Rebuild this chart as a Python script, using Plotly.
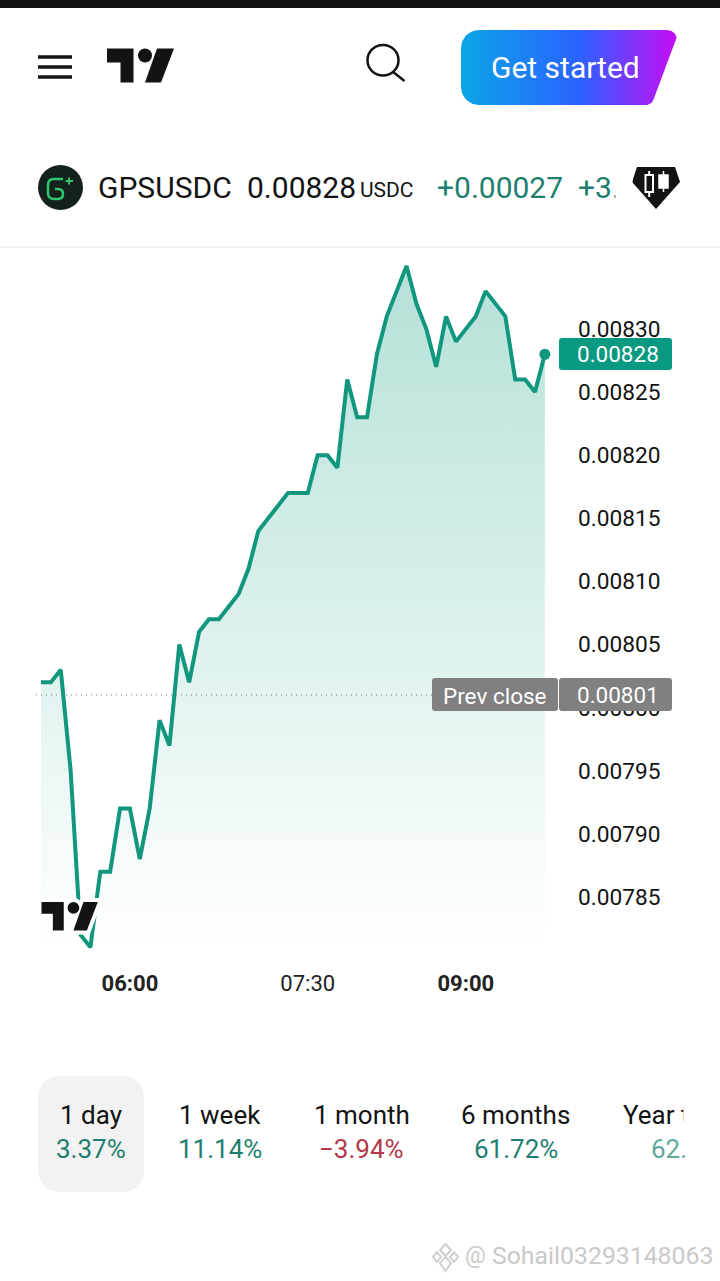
import numpy as np
import plotly.graph_objects as go

# chart data (one point per bar, gaps not shown)
bar_index = list(range(52))
prices = [
    0.00802, 0.00802, 0.00803, 0.00795, 0.00782, 0.00781, 0.00787, 0.00787,
    0.00792, 0.00792, 0.00788, 0.00792, 0.00799, 0.00797, 0.00805, 0.00802,
    0.00806, 0.00807, 0.00807, 0.00808, 0.00809, 0.00811, 0.00814, 0.00815,
    0.00816, 0.00817, 0.00817, 0.00817, 0.00820, 0.00820, 0.00819, 0.00826,
    0.00823, 0.00823, 0.00828, 0.00831, 0.00833, 0.00835, 0.00832, 0.00830,
    0.00827, 0.00831, 0.00829, 0.00830, 0.00831, 0.00833, 0.00832, 0.00831,
    0.00826, 0.00826, 0.00825, 0.00828,
]
prev_close = 0.00801
base_price = 0.00780

y_ticks = [0.00830, 0.00825, 0.00820, 0.00815, 0.00810, 0.00805, 0.00800, 0.00795, 0.00790, 0.00785]
y_tick_labels = ["0.00830", "0.00825", "0.00820", "0.00815", "0.00810", "0.00805", "0.00800", "0.00795", "0.00790", "0.00785"]
x_ticks = [9, 27, 43]
x_tick_labels = ["<b>06:00</b>", "07:30", "<b>09:00</b>"]

periods = ["1 day", "1 week", "1 month", "6 months"]
period_changes = ["3.37%", "11.14%", "\u22123.94%", "61.72%"]

FONT = "Roboto"
GREEN = "#12977F"
TEXT_GREEN = "#1F7F6E"
RED = "#B2384A"
INK = "#131313"
GRAY = "#808080"
W, H = 720, 1281


def label(x, y, text, size, color=INK, anchor="center"):
    return dict(x=x, y=y, xref="x2", yref="y2", text=text, showarrow=False, xanchor=anchor,
                yanchor="middle", borderpad=0, font=dict(family=FONT, size=size, color=color))


def blank(x0, x1, y0, y1):
    # white patch over text, used where the page crops a word
    return dict(x=x0, y=y0, xref="x2", yref="y2", text=" ", showarrow=False, xanchor="left", yanchor="top",
                width=x1 - x0, height=y1 - y0, bgcolor="white", borderpad=0, font=dict(size=10))


def page_shape(path, fill=None, line=None, width=0):
    return dict(type="path", path=path, xref="x2", yref="y2", layer="above",
                fillcolor=fill if fill else "rgba(0,0,0,0)",
                line=dict(color=line if line else "rgba(0,0,0,0)", width=width))


def page_circle(cx, cy, r, fill, line=None, width=0):
    return dict(type="circle", x0=cx - r, x1=cx + r, y0=cy - r, y1=cy + r, xref="x2", yref="y2", layer="above",
                fillcolor=fill, line=dict(color=line if line else "rgba(0,0,0,0)", width=width))


def round_rect(x0, y0, x1, y1, r):
    return (f"M {x0 + r} {y0} H {x1 - r} Q {x1} {y0} {x1} {y0 + r} V {y1 - r} Q {x1} {y1} {x1 - r} {y1} "
            f"H {x0 + r} Q {x0} {y1} {x0} {y1 - r} V {y0 + r} Q {x0} {y0} {x0 + r} {y0} Z")


def tv_logo(x, y, s, halo=False):
    # logo drawn in a 67 x 34 box
    def p(px, py):
        return f"{x + px * s} {y + py * s}"
    t = f"M {p(0, 0)} L {p(26.5, 0)} L {p(26.5, 34)} L {p(13.5, 34)} L {p(13.5, 14)} L {p(0, 14)} Z"
    slash = f"M {p(50, 0)} L {p(67, 0)} L {p(54, 34)} L {p(38, 34)} Z"
    cx, cy = x + 38 * s, y + 7 * s
    out = []
    if halo:
        out += [page_shape(d, "white", "white", 8) for d in (t, slash)]
        out.append(page_circle(cx, cy, 7 * s, "white", "white", 8))
    out += [page_shape(d, INK) for d in (t, slash)]
    out.append(page_circle(cx, cy, 7 * s, INK))
    return out


def arc(cx, cy, r, a0, a1):
    a = np.radians(np.linspace(a0, a1, 12))
    return list(cx + r * np.cos(a)), list(cy + r * np.sin(a))


fig = go.Figure()

fig.add_trace(go.Scatter(x=bar_index, y=[base_price] * len(bar_index), mode="lines",
                         line=dict(width=0), hoverinfo="skip", xaxis="x", yaxis="y"))
fig.add_trace(go.Scatter(x=bar_index, y=prices, mode="lines", fill="tonexty",
                         line=dict(color=GREEN, width=4),
                         fillgradient=dict(type="vertical", start=0.00781, stop=0.00835,
                                           colorscale=[[0, "rgba(8,153,129,0)"], [1, "rgba(8,153,129,0.30)"]]),
                         xaxis="x", yaxis="y"))
fig.add_trace(go.Scatter(x=bar_index[-1:], y=prices[-1:], mode="markers",
                         marker=dict(color=GREEN, size=11), xaxis="x", yaxis="y"))

# button with the gradient, page pixel coordinates
bx, by = [], []
for c in [(479, 48, 18, 180, 270), (667, 40, 10, 270, 345), (646, 97, 8, 15, 90), (479, 87, 18, 90, 180)]:
    ax_, ay_ = arc(*c)
    bx += ax_
    by += ay_
fig.add_trace(go.Scatter(x=bx + bx[:1], y=by + by[:1], mode="lines", fill="toself", line=dict(width=0),
                         fillgradient=dict(type="horizontal", start=461, stop=677,
                                           colorscale=[[0, "#0BA5E6"], [0.55, "#2B62FF"], [1, "#C70CF5"]]),
                         xaxis="x2", yaxis="y2", hoverinfo="skip"))

shapes = [
    dict(type="rect", x0=0, x1=W, y0=0, y1=8, xref="x2", yref="y2", fillcolor=INK, line_width=0, layer="above"),
    dict(type="rect", x0=0, x1=W, y0=246.5, y1=248, xref="x2", yref="y2", fillcolor="#EFEFEF", line_width=0, layer="above"),
    dict(type="line", x0=36, x1=560, y0=prev_close, y1=prev_close, xref="x2", yref="y",
         line=dict(color="#777777", width=1, dash="1px 4px"), layer="above"),
    # hamburger
    *[dict(type="line", x0=38, x1=72, y0=v, y1=v, xref="x2", yref="y2", line=dict(color=INK, width=3.5), layer="above")
      for v in (57, 67, 77)],
    # search icon
    dict(type="circle", x0=367.5, x1=398.5, y0=45, y1=75.5, xref="x2", yref="y2", line=dict(color=INK, width=2.5), layer="above"),
    dict(type="line", x0=392.5, x1=404.5, y0=71.5, y1=81, xref="x2", yref="y2", line=dict(color=INK, width=2.5), layer="above"),
    # token icon
    page_circle(60.5, 187.5, 22.5, "#14211D"),
    page_shape("M 63 179 H 54 Q 48 179 48 185 V 193 Q 48 199 54 199 H 58 Q 63 199 63 194 Q 63 189 58 189 H 55", None, "#2DC76D", 2.5),
    page_shape("M 65.5 181 H 73 M 69 177.5 V 184.5", None, "#2DC76D", 2),
    # candle badge
    page_shape("M 637 167 H 675 L 680 182 L 656 209 L 632 182 Z", INK),
    page_shape("M 645.5 175 H 653 V 192 H 645.5 Z M 649.2 171 V 175 M 649.2 192 V 197", None, "white", 2),
    page_shape("M 659 175 H 668 V 188 H 659 Z M 663.5 171 V 175 M 663.5 188 V 192", "white", "white", 1.5),
    # price labels
    page_shape(round_rect(559, 338, 672, 370, 3), "#089981"),
    page_shape(round_rect(432, 678, 558, 711, 3), GRAY),
    page_shape(round_rect(559, 678, 672, 711, 3), GRAY),
    # selected period
    page_shape(round_rect(38, 1076, 144, 1192, 24), "#F2F2F2"),
    # watermark mark
    page_shape("M 445.5 1244 L 451 1250 L 445.5 1256 L 440 1250 Z", None, "#CFCFCF", 2),
    page_shape("M 445.5 1257 L 451 1263 L 445.5 1271 L 440 1263 Z", None, "#CFCFCF", 2),
    page_shape("M 437 1252 L 441 1257 L 437 1262 L 433 1257 Z M 454 1252 L 458 1257 L 454 1262 L 450 1257 Z", None, "#CFCFCF", 2),
]
shapes += tv_logo(107, 48.5, 1.0)
shapes += tv_logo(41.5, 902, 0.84, halo=True)

annotations = [
    label(565.5, 67, "Get started", 30, "white"),
    label(97, 187, "GPSUSDC", 30, INK, "left"),
    label(246, 187, "0.00828", 30, INK, "left"),
    label(359, 190, "USDC", 21, INK, "left"),
    label(436, 187, "+0.00027", 30, TEXT_GREEN, "left"),
    label(577, 187, "+3.", 30, TEXT_GREEN, "left"),
    blank(615, 631, 170, 205),
    label(618, 354, "0.00828", 22.5, "white"),
    label(494.5, 696, "Prev close", 22.5, "white"),
    label(618, 695, "0.00801", 22.5, "white"),
    label(622, 1115, "Year t", 26, INK, "left"),
    blank(683, 700, 1098, 1132),
    label(650, 1149, "62.", 26, "#5FA89B", "left"),
    label(464, 1255, "@", 23, "#C9C9C9", "left"),
    label(491, 1255, "Sohail03293148063", 24.8, "#C9C9C9", "left"),
]
period_centers = [90.5, 219.5, 361.5, 515.5]
for name, change, cx in zip(periods, period_changes, period_centers):
    annotations.append(label(cx, 1115, name, 26, INK))
    annotations.append(label(cx, 1149, change, 26, RED if change.startswith("\u2212") else TEXT_GREEN))

fig.update_layout(
    width=W, height=H, margin=dict(l=0, r=0, t=0, b=0),
    paper_bgcolor="white", plot_bgcolor="rgba(0,0,0,0)", showlegend=False,
    font=dict(family=FONT, color=INK),
    shapes=shapes, annotations=annotations,
    xaxis=dict(domain=[41 / W, 575 / W], range=[0, 54.05], anchor="y", showgrid=False, zeroline=False,
               showline=False, ticks="", tickvals=x_ticks, ticktext=x_tick_labels, tickangle=0,
               ticklabelstandoff=8, tickfont=dict(size=22, color="#222222", family=FONT)),
    yaxis=dict(domain=[1 - 960 / H, 1 - 248 / H], range=[0.00780, 0.00836418], anchor="x", side="right",
               showgrid=False, zeroline=False, showline=False, ticks="", tickvals=y_ticks, ticktext=y_tick_labels,
               ticklabelstandoff=2, tickfont=dict(size=22.7, color=INK, family=FONT)),
    xaxis2=dict(domain=[0, 1], range=[0, W], anchor="y2", visible=False, fixedrange=True),
    yaxis2=dict(domain=[0, 1], range=[H, 0], anchor="x2", visible=False, fixedrange=True),
)

# the page has a default body margin, the figure fills the whole window
fig.write_html("out.html", config={"displayModeBar": False}, post_script="document.body.style.margin='0';")
